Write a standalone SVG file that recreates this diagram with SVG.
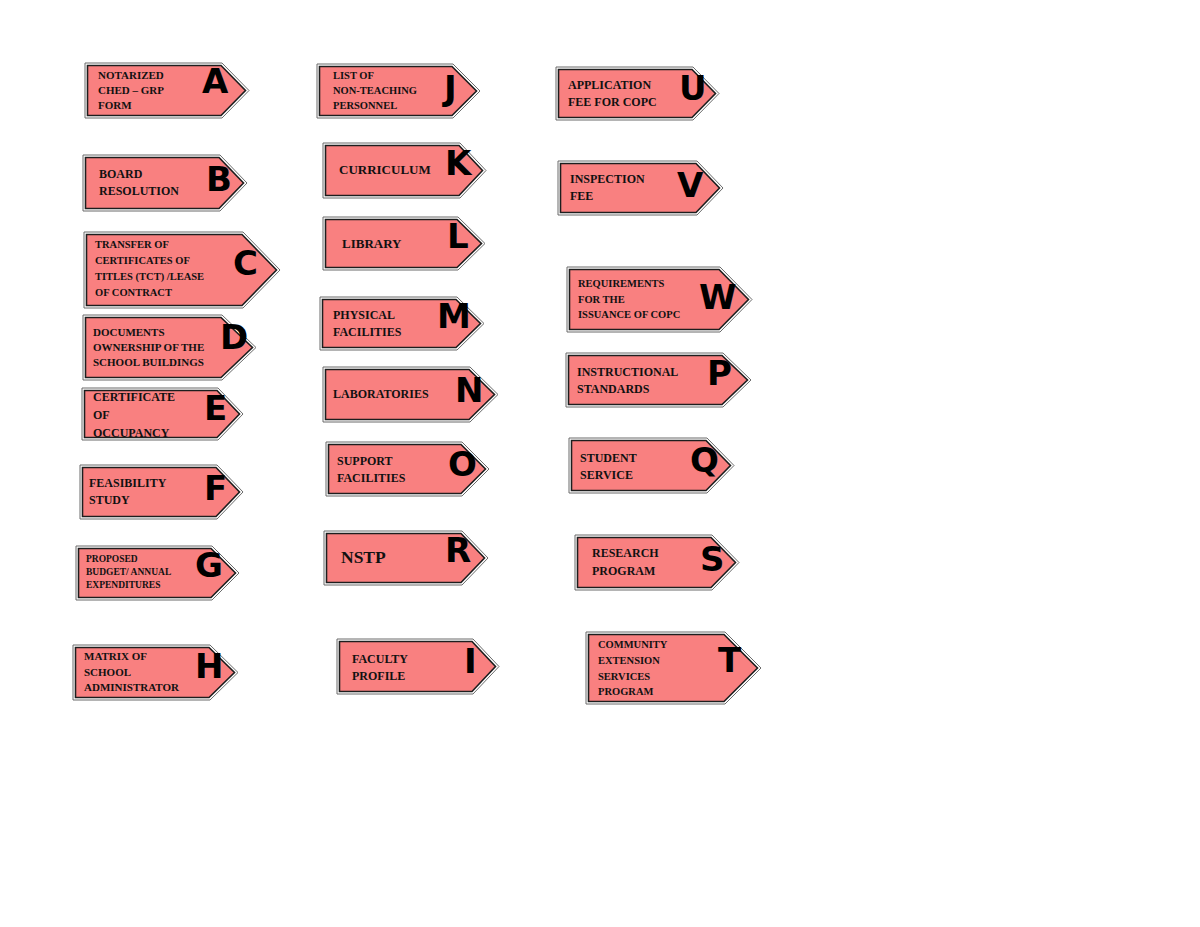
<svg xmlns="http://www.w3.org/2000/svg" width="1200" height="927" viewBox="0 0 1200 927">
<style>
.o{fill:#ffffff;stroke:#6b6b6b;stroke-width:1}
.i{fill:#F98080;stroke:#1e1e1e;stroke-width:1.6}
.t{font-family:"Liberation Serif","Times New Roman",serif;font-weight:bold;fill:#111}
.L{font-family:"DejaVu Sans","Liberation Sans",sans-serif;font-weight:bold;font-size:34px;fill:#000}
</style>
<rect width="1200" height="927" fill="#ffffff"/>
<g id="connectors"></g>

<g id="node-A">
<polygon class="o" points="85,63 222,63 249,90.5 222,118 85,118"/>
<polygon class="i" points="87.5,65.5 221,65.5 245.5,90.5 221,115.5 87.5,115.5"/>
<text class="t" font-size="11" x="98" y="79">NOTARIZED</text>
<text class="t" font-size="11" x="98" y="94">CHED – GRP</text>
<text class="t" font-size="11" x="98" y="109">FORM</text>
<text class="L" x="202" y="93">A</text>
</g>

<g id="node-B">
<polygon class="o" points="83,155 220,155 247,183 220,211 83,211"/>
<polygon class="i" points="85.5,157.5 219,157.5 243.5,183 219,208.5 85.5,208.5"/>
<text class="t" font-size="12" x="99" y="178">BOARD</text>
<text class="t" font-size="12" x="99" y="195">RESOLUTION</text>
<text class="L" x="206" y="191">B</text>
</g>

<g id="node-C">
<polygon class="o" points="84,232 243,232 280,270 243,308 84,308"/>
<polygon class="i" points="86.5,234.5 242,234.5 276.5,270 242,305.5 86.5,305.5"/>
<text class="t" font-size="10.5" x="95" y="248">TRANSFER OF</text>
<text class="t" font-size="10.5" x="95" y="264">CERTIFICATES OF</text>
<text class="t" font-size="10.5" x="95" y="280">TITLES (TCT) /LEASE</text>
<text class="t" font-size="10.5" x="95" y="296">OF CONTRACT</text>
<text class="L" x="233" y="275">C</text>
</g>

<g id="node-D">
<polygon class="o" points="83,315 222,315 256,347.5 222,380 83,380"/>
<polygon class="i" points="85.5,317.5 221,317.5 252.5,347.5 221,377.5 85.5,377.5"/>
<text class="t" font-size="11" x="93" y="336">DOCUMENTS</text>
<text class="t" font-size="11" x="93" y="351">OWNERSHIP OF THE</text>
<text class="t" font-size="11" x="93" y="366">SCHOOL BUILDINGS</text>
<text class="L" x="220" y="349">D</text>
</g>

<g id="node-E">
<polygon class="o" points="82,388 218,388 243,414 218,440 82,440"/>
<polygon class="i" points="84.5,390.5 217,390.5 239.5,414 217,437.5 84.5,437.5"/>
<text class="t" font-size="12" x="93" y="401">CERTIFICATE</text>
<text class="t" font-size="12" x="93" y="419">OF</text>
<text class="t" font-size="12" x="93" y="437">OCCUPANCY</text>
<text class="L" x="204" y="420">E</text>
</g>

<g id="node-F">
<polygon class="o" points="80,465 217,465 243,492 217,519 80,519"/>
<polygon class="i" points="82.5,467.5 216,467.5 239.5,492 216,516.5 82.5,516.5"/>
<text class="t" font-size="12" x="89" y="487">FEASIBILITY</text>
<text class="t" font-size="12" x="89" y="504">STUDY</text>
<text class="L" x="204" y="500">F</text>
</g>

<g id="node-G">
<polygon class="o" points="76,546 212,546 239,573 212,600 76,600"/>
<polygon class="i" points="78.5,548.5 211,548.5 235.5,573 211,597.5 78.5,597.5"/>
<text class="t" font-size="9.5" x="86" y="562">PROPOSED</text>
<text class="t" font-size="9.5" x="86" y="575">BUDGET/ ANNUAL</text>
<text class="t" font-size="9.5" x="86" y="588">EXPENDITURES</text>
<text class="L" x="195" y="577">G</text>
</g>

<g id="node-H">
<polygon class="o" points="73,645 210,645 238,672.5 210,700 73,700"/>
<polygon class="i" points="75.5,647.5 209,647.5 234.5,672.5 209,697.5 75.5,697.5"/>
<text class="t" font-size="11" x="84" y="660">MATRIX OF</text>
<text class="t" font-size="11" x="84" y="676">SCHOOL</text>
<text class="t" font-size="11" x="84" y="691">ADMINISTRATOR</text>
<text class="L" x="195" y="678">H</text>
</g>

<g id="node-J">
<polygon class="o" points="317,64 453,64 480,91 453,118 317,118"/>
<polygon class="i" points="319.5,66.5 452,66.5 476.5,91 452,115.5 319.5,115.5"/>
<text class="t" font-size="10.5" x="333" y="79">LIST OF</text>
<text class="t" font-size="10.5" x="333" y="94">NON-TEACHING</text>
<text class="t" font-size="10.5" x="333" y="109">PERSONNEL</text>
<text class="L" x="444" y="100">J</text>
</g>

<g id="node-K">
<polygon class="o" points="323,143 460,143 486,170.5 460,198 323,198"/>
<polygon class="i" points="325.5,145.5 459,145.5 482.5,170.5 459,195.5 325.5,195.5"/>
<text class="t" font-size="13" x="339" y="174">CURRICULUM</text>
<text class="L" x="445" y="175">K</text>
</g>

<g id="node-L">
<polygon class="o" points="323,217 458,217 485,243.5 458,270 323,270"/>
<polygon class="i" points="325.5,219.5 457,219.5 481.5,243.5 457,267.5 325.5,267.5"/>
<text class="t" font-size="13" x="342" y="248">LIBRARY</text>
<text class="L" x="447" y="248">L</text>
</g>

<g id="node-M">
<polygon class="o" points="320,297 457,297 484,323.5 457,350 320,350"/>
<polygon class="i" points="322.5,299.5 456,299.5 480.5,323.5 456,347.5 322.5,347.5"/>
<text class="t" font-size="12" x="333" y="319">PHYSICAL</text>
<text class="t" font-size="12" x="333" y="336">FACILITIES</text>
<text class="L" x="437" y="328">M</text>
</g>

<g id="node-N">
<polygon class="o" points="323,367 470,367 498,394.5 470,422 323,422"/>
<polygon class="i" points="325.5,369.5 469,369.5 494.5,394.5 469,419.5 325.5,419.5"/>
<text class="t" font-size="12" x="333" y="398">LABORATORIES</text>
<text class="L" x="455" y="402">N</text>
</g>

<g id="node-O">
<polygon class="o" points="326,442 462,442 489,469 462,496 326,496"/>
<polygon class="i" points="328.5,444.5 461,444.5 485.5,469 461,493.5 328.5,493.5"/>
<text class="t" font-size="12" x="337" y="465">SUPPORT</text>
<text class="t" font-size="12" x="337" y="482">FACILITIES</text>
<text class="L" x="448" y="476">O</text>
</g>

<g id="node-R">
<polygon class="o" points="324,531 462,531 488,558 462,585 324,585"/>
<polygon class="i" points="326.5,533.5 461,533.5 484.5,558 461,582.5 326.5,582.5"/>
<text class="t" font-size="17.5" x="341" y="563">NSTP</text>
<text class="L" x="445" y="562">R</text>
</g>

<g id="node-I">
<polygon class="o" points="337,639 473,639 499,666.5 473,694 337,694"/>
<polygon class="i" points="339.5,641.5 472,641.5 495.5,666.5 472,691.5 339.5,691.5"/>
<text class="t" font-size="12" x="352" y="663">FACULTY</text>
<text class="t" font-size="12" x="352" y="680">PROFILE</text>
<text class="L" x="464" y="673">I</text>
</g>

<g id="node-U">
<polygon class="o" points="556,67 693,67 719,93.5 693,120 556,120"/>
<polygon class="i" points="558.5,69.5 692,69.5 715.5,93.5 692,117.5 558.5,117.5"/>
<text class="t" font-size="12" x="568" y="89">APPLICATION</text>
<text class="t" font-size="12" x="568" y="106">FEE FOR COPC</text>
<text class="L" x="679" y="100">U</text>
</g>

<g id="node-V">
<polygon class="o" points="558,161 697,161 723,188 697,215 558,215"/>
<polygon class="i" points="560.5,163.5 696,163.5 719.5,188 696,212.5 560.5,212.5"/>
<text class="t" font-size="12" x="570" y="183">INSPECTION</text>
<text class="t" font-size="12" x="570" y="200">FEE</text>
<text class="L" x="677" y="197">V</text>
</g>

<g id="node-W">
<polygon class="o" points="567,267 720,267 752,299.5 720,332 567,332"/>
<polygon class="i" points="569.5,269.5 719,269.5 748.5,299.5 719,329.5 569.5,329.5"/>
<text class="t" font-size="10.5" x="578" y="287">REQUIREMENTS</text>
<text class="t" font-size="10.5" x="578" y="303">FOR THE</text>
<text class="t" font-size="10.5" x="578" y="318">ISSUANCE OF COPC</text>
<text class="L" x="699" y="309">W</text>
</g>

<g id="node-P">
<polygon class="o" points="566,353 723,353 751,380 723,407 566,407"/>
<polygon class="i" points="568.5,355.5 722,355.5 747.5,380 722,404.5 568.5,404.5"/>
<text class="t" font-size="12" x="577" y="376">INSTRUCTIONAL</text>
<text class="t" font-size="12" x="577" y="393">STANDARDS</text>
<text class="L" x="707" y="385">P</text>
</g>

<g id="node-Q">
<polygon class="o" points="569,438 707,438 734,465.5 707,493 569,493"/>
<polygon class="i" points="571.5,440.5 706,440.5 730.5,465.5 706,490.5 571.5,490.5"/>
<text class="t" font-size="12" x="580" y="462">STUDENT</text>
<text class="t" font-size="12" x="580" y="479">SERVICE</text>
<text class="L" x="690" y="472">Q</text>
</g>

<g id="node-S">
<polygon class="o" points="575,535 712,535 739,562.5 712,590 575,590"/>
<polygon class="i" points="577.5,537.5 711,537.5 735.5,562.5 711,587.5 577.5,587.5"/>
<text class="t" font-size="12" x="592" y="557">RESEARCH</text>
<text class="t" font-size="12" x="592" y="575">PROGRAM</text>
<text class="L" x="700" y="571">S</text>
</g>

<g id="node-T">
<polygon class="o" points="586,632 725,632 761,668 725,704 586,704"/>
<polygon class="i" points="588.5,634.5 724,634.5 757.5,668 724,701.5 588.5,701.5"/>
<text class="t" font-size="10.5" x="598" y="648">COMMUNITY</text>
<text class="t" font-size="10.5" x="598" y="664">EXTENSION</text>
<text class="t" font-size="10.5" x="598" y="680">SERVICES</text>
<text class="t" font-size="10.5" x="598" y="695">PROGRAM</text>
<text class="L" x="718" y="672">T</text>
</g>
</svg>
